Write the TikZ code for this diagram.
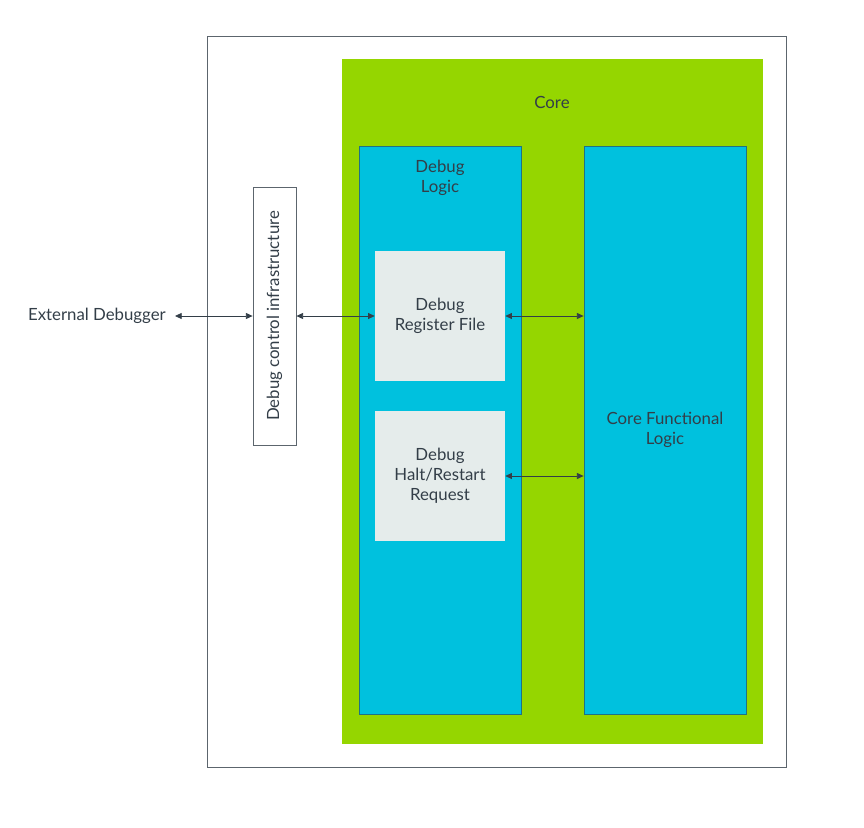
\documentclass[tikz,border=0pt]{standalone}
\usepackage{fontspec}
\setmainfont{Lato}
\usepackage{xcolor}
\usepackage{tikz}
\usetikzlibrary{arrows.meta, positioning}
\definecolor{armgreen}{HTML}{95D600}
\definecolor{armblue}{HTML}{00C1DE}
\definecolor{armgrey}{HTML}{E5ECEB}
\definecolor{armtext}{HTML}{333E48}
\tikzset{
  frame/.style={rectangle, draw=armtext!80, line width=0.6pt, inner sep=0pt},
  bluebox/.style={rectangle, fill=armblue, draw=armtext!60!armblue, line width=0.6pt, inner sep=0pt, minimum width=162*0.75pt, minimum height=568*0.75pt},
  greybox/.style={rectangle, fill=armgrey, inner sep=0pt, minimum width=130*0.75pt, minimum height=130*0.75pt, align=center, text=armtext},
  label/.style={align=center, text=armtext, inner sep=0pt},
  link/.style={{Triangle[length=5pt,width=4.5pt]}-{Triangle[length=5pt,width=4.5pt]}, armtext, line width=0.6pt},
}

\begin{document}
\begin{tikzpicture}[x=0.75pt, y=-0.75pt, font=\fontsize{12.6}{15}\selectfont]
    \useasboundingbox (0,0) rectangle (864,828);
    \node[frame, minimum width=579*0.75pt, minimum height=731*0.75pt] (soc) at (496.5,401.5) {};
    \node[rectangle, fill=armgreen, inner sep=0pt, minimum width=421*0.75pt, minimum height=685*0.75pt] (core) at (552.5,401.5) {};
    \node[label] (corelbl) at (552,102) {Core};
    \node[bluebox] (dbglogic) at (440,430) {};
    \node[bluebox] (corefunc) at (665,430) {};
    \node[label] (dbglbl) at (440,178) {Debug\\Logic};
    \node[label] (funclbl) at (665,430) {Core Functional\\Logic};
    \node[greybox] (regfile) at (440,316) {Debug\\Register File};
    \node[greybox] (haltreq) at (440,476) {Debug\\Halt/Restart\\Request};
    \node[frame, fill=white, minimum width=43*0.75pt, minimum height=258*0.75pt] (dci) at (274.5,316) {};
    \node[label, rotate=90] (dcilbl) at (dci) {Debug control infrastructure};
    \node[label, anchor=east] (extdbg) at (166,316) {External Debugger};
    \draw[link] (extdbg.east) ++(9,0) coordinate (extend) (extend) -- (dci.west);
    \draw[link] (dci.east) -- (regfile.west);
    \draw[link] (regfile.east) -- (regfile.east -| corefunc.west);
    \draw[link] (haltreq.east) -- (haltreq.east -| corefunc.west);
\end{tikzpicture}
\end{document}
